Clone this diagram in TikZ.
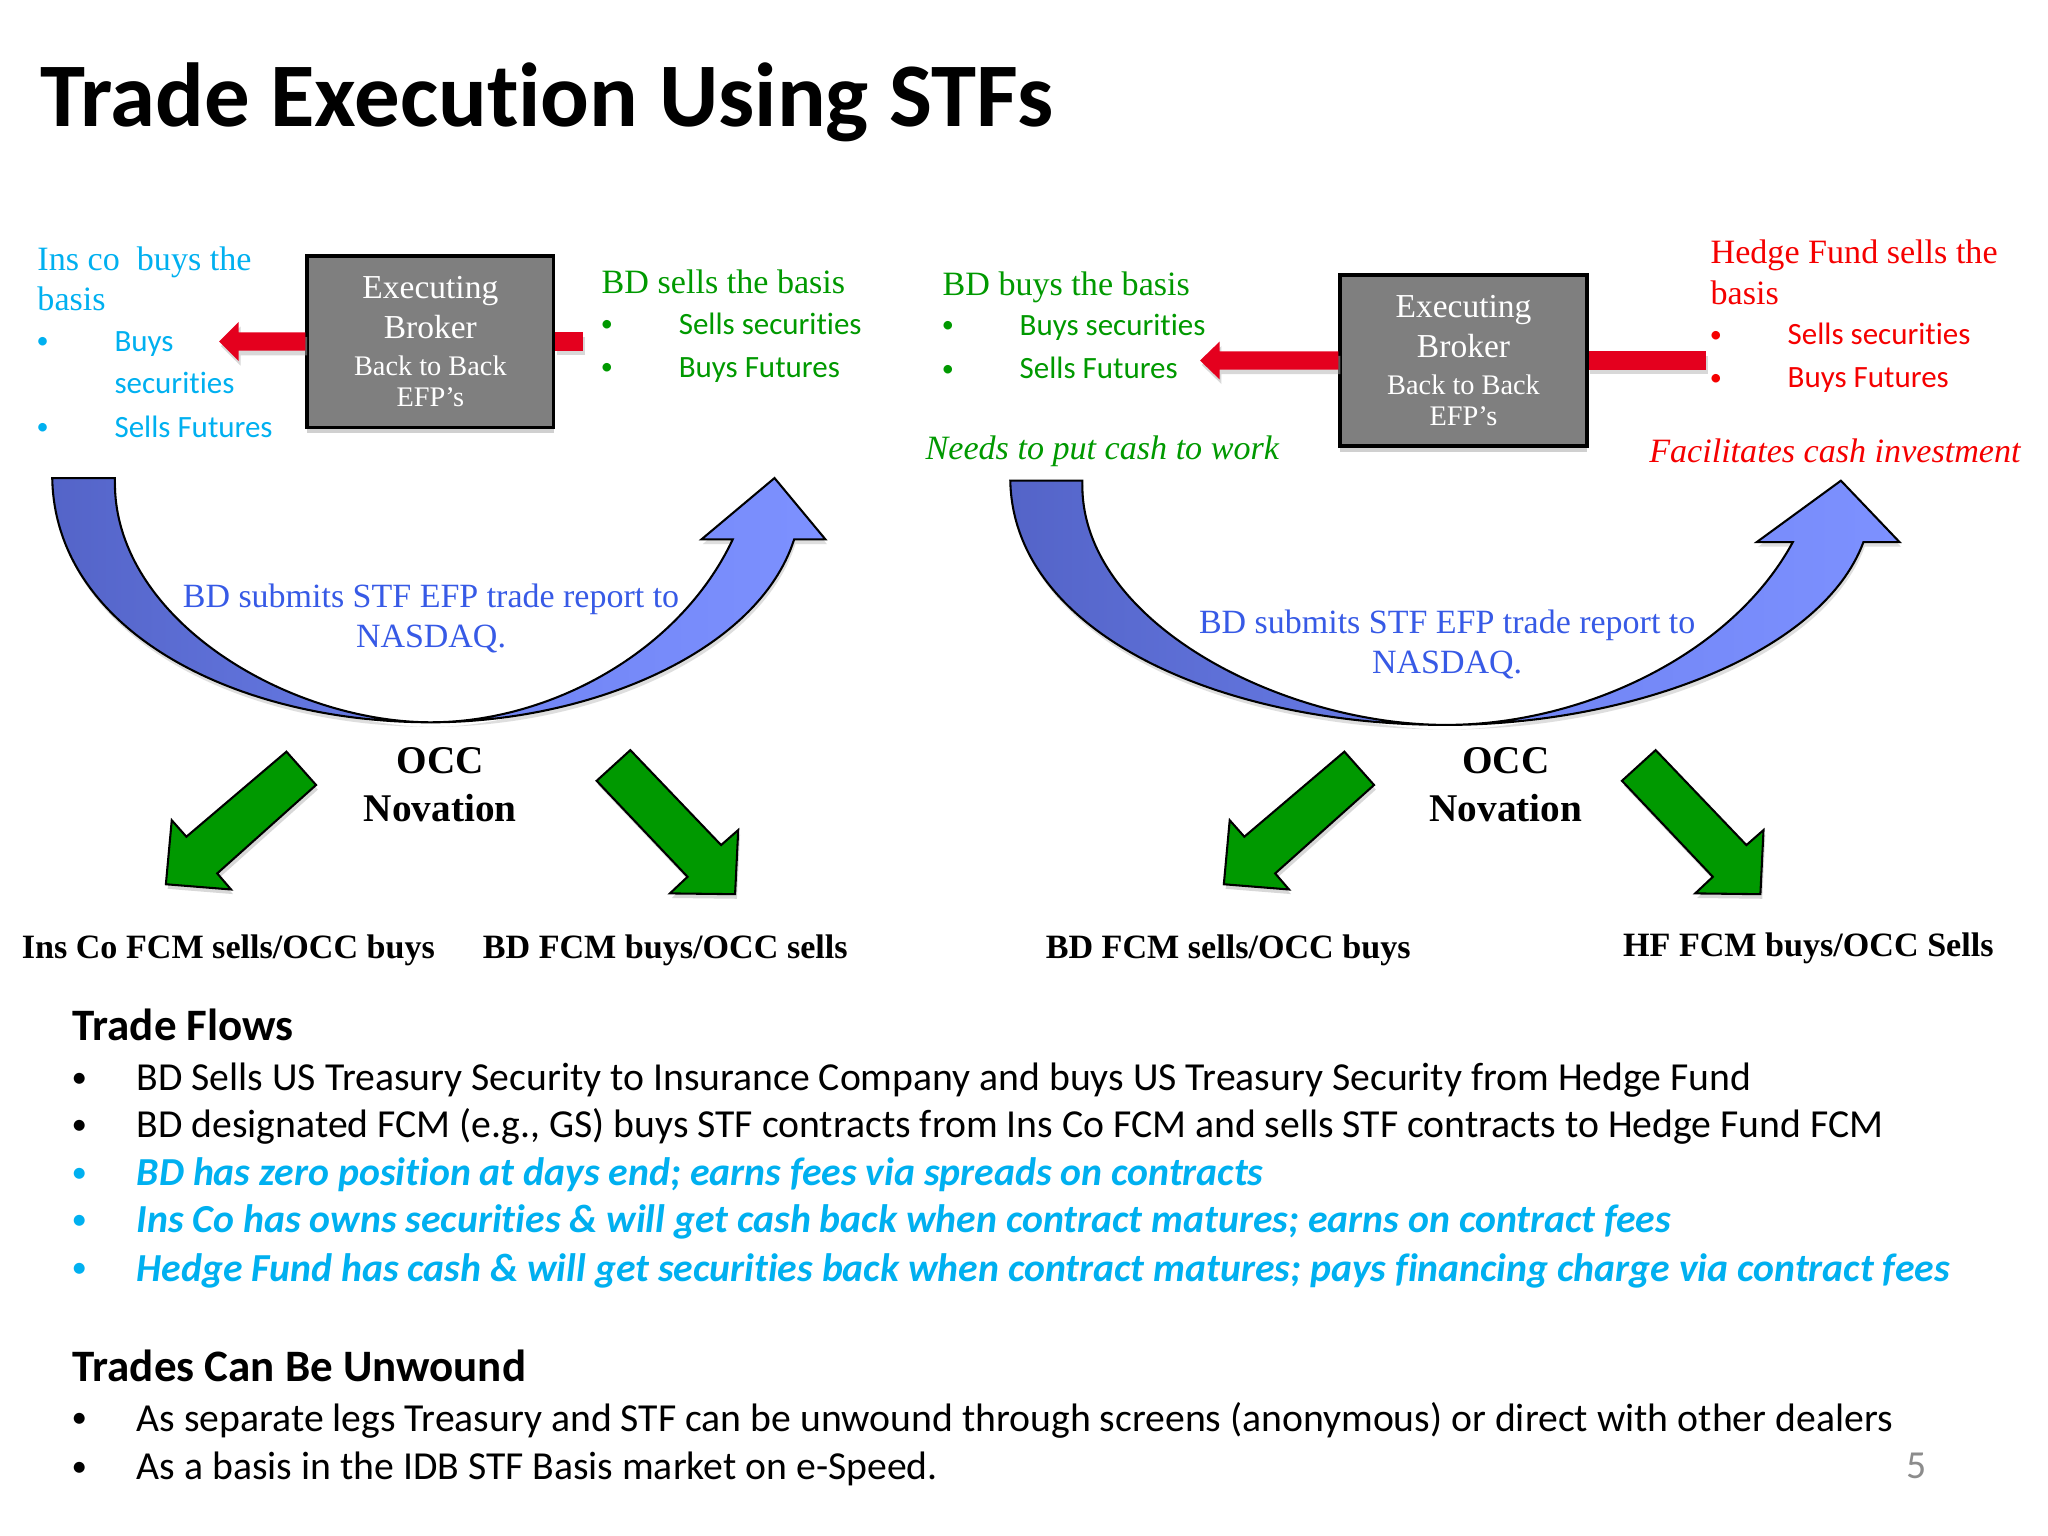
\documentclass[tikz,border=0pt]{standalone}
\usepackage{fontspec}
\setmainfont{Liberation Serif}
\newfontfamily\calibri[Ligatures=NoCommon]{Carlito}
\usepackage{tikz}
\usetikzlibrary{positioning,shadows}
\definecolor{insblue}{RGB}{0,176,240}
\definecolor{bdgreen}{RGB}{0,153,0}
\definecolor{hfred}{RGB}{245,0,0}
\definecolor{flowred}{RGB}{228,0,30}
\definecolor{boxgray}{RGB}{127,127,127}
\definecolor{reportblue}{RGB}{55,90,230}
\definecolor{backL}{RGB}{84,100,200}
\definecolor{backR}{RGB}{105,125,232}
\definecolor{frontL}{RGB}{110,130,242}
\definecolor{frontR}{RGB}{125,145,255}
\definecolor{pagegray}{RGB}{140,140,140}
\newcommand{\smalldot}{\raisebox{0.09em}{\scalebox{0.78}{•}}}

\begin{document}
\begin{tikzpicture}[x=0.1mm, y=-0.1mm,
    serif/.style={inner sep=0pt, anchor=base west, font=\fontsize{7.43}{8.8}\selectfont},
    sans/.style={inner sep=0pt, anchor=base west, font=\calibri\fontsize{6.75}{9.4}\selectfont},
    fcm/.style={inner sep=0pt, anchor=base west, font=\bfseries\fontsize{7.43}{8.8}\selectfont},
    body/.style={inner sep=0pt, anchor=base west, font=\calibri\fontsize{8.65}{10.4}\selectfont},
    bodyhead/.style={inner sep=0pt, anchor=base west, font=\calibri\bfseries\fontsize{9.8}{11.8}\selectfont},
    broker/.style={draw=black, line width=0.7pt, fill=boxgray, text=white, align=center,
        inner sep=0pt, minimum width=18.9mm, minimum height=13.1mm,
        font=\fontsize{7.3}{8.8}\selectfont,
        drop shadow={shadow xshift=0pt, shadow yshift=-1.2pt, fill=black!30, opacity=0.6}},
    flow/.style={fill=flowred, drop shadow={shadow xshift=0.4pt, shadow yshift=-1pt, fill=black!30, opacity=0.5}},
    band/.style={draw=black, line width=0.45pt, drop shadow={shadow xshift=0.3pt, shadow yshift=-1pt, fill=black!25, opacity=0.5}},
    novate/.style={fill=bdgreen, draw=black, line width=0.45pt, drop shadow={shadow xshift=0.4pt, shadow yshift=-1pt, fill=black!30, opacity=0.5}},
    report/.style={inner sep=0pt, anchor=base, text=reportblue, font=\fontsize{7.4}{8.8}\selectfont},
    occ/.style={inner sep=0pt, anchor=base, font=\bfseries\fontsize{8.55}{10.5}\selectfont}
]
    \fill[white] (0,0) rectangle (1568,1176);
    \useasboundingbox (0,0) rectangle (1568,1176);

    % title
    \node[inner sep=0pt, anchor=base west, font=\calibri\bfseries\fontsize{19.8}{23.5}\selectfont] (title) at (30,97) {Trade Execution Using STFs};

    % left panel: Ins Co / BD
    \node[broker] (brokerL) at (329.5,261.5) {Executing\\Broker\\[-0.3mm]{\fontsize{6.17}{7.3}\selectfont Back to Back}\\[-0.7mm]{\fontsize{6.17}{7.3}\selectfont EFP’s}};
    \fill[flow] (brokerL.west) ++(0,-7) -- ++(-51,0) -- ++(0,-8) -- ++(-15,15) -- ++(15,15) -- ++(0,-8) -- ++(51,0) -- cycle;
    \fill[flow] (brokerL.east) ++(0,-7) rectangle ++(21,14);

    \node[serif, text=insblue] (insHead1) at (28,207) {Ins co\ \ buys the};
    \node[serif, text=insblue] (insHead2) at (28,238) {basis};
    \node[sans, text=insblue] (insBuy) at (87,269) {\llap{\clap{\smalldot}\hspace{5.5mm}}Buys};
    \node[sans, text=insblue] (insSec) at (87,301) {securities};
    \node[sans, text=insblue] (insSell) at (87,335) {\llap{\clap{\smalldot}\hspace{5.5mm}}Sells Futures};

    \node[serif, text=bdgreen] (bdSellHead) at (460,225) {BD sells the basis};
    \node[sans, text=bdgreen] (bdSellSec) at (519,256) {\llap{\clap{\smalldot}\hspace{5.5mm}}Sells securities};
    \node[sans, text=bdgreen] (bdSellFut) at (519,289) {\llap{\clap{\smalldot}\hspace{5.5mm}}Buys Futures};

    \begin{scope}[shift={(330,553)}]
        \shadedraw[band, left color=backL, right color=backR] (-290,-187) .. controls (-288,-70) and (-150,0) .. (0,0)
            .. controls (-110,0) and (-245,-80) .. (-242,-187) -- cycle;
        \shadedraw[band, left color=frontL, right color=frontR] (0,0) .. controls (120,0) and (250,-53) .. (278,-140)
            -- (302,-140) -- (263,-187) -- (207,-140) -- (231,-140) .. controls (190,-53) and (90,0) .. (0,0) -- cycle;
    \end{scope}
    \node[report] (reportL1) at (330,465) {BD submits STF EFP trade report to};
    \node[report] (reportL2) at (330,496) {NASDAQ.};

    \node[occ] (occL1) at (337,592) {OCC};
    \node[occ] (occL2) at (337,629) {Novation};
    \filldraw[novate] (219.3,575.5) -- (242,601) -- (166.3,668.7) -- (176.9,681) -- (127,677) -- (131.5,628) -- (142.7,640.6) -- cycle;
    \filldraw[novate] (482.6,574.3) -- (456.8,597.8) -- (526.4,671.3) -- (512.9,684) -- (562.8,684.6) -- (565.2,635.5) -- (552.1,647) -- cycle;

    \node[fcm] (insFcm) at (16,734) {Ins Co FCM sells/OCC buys};
    \node[fcm] (bdFcmL) at (369,734) {BD FCM buys/OCC sells};

    % right panel: BD / Hedge Fund
    \node[broker] (brokerR) at (1120.5,276) {Executing\\Broker\\[-0.3mm]{\fontsize{6.17}{7.3}\selectfont Back to Back}\\[-0.7mm]{\fontsize{6.17}{7.3}\selectfont EFP’s}};
    \fill[flow] (brokerR.west) ++(0,-7) -- ++(-91,0) -- ++(0,-7.5) -- ++(-15,14.5) -- ++(15,14.5) -- ++(0,-7.5) -- ++(91,0) -- cycle;
    \fill[flow] (brokerR.east) ++(0,-7) rectangle ++(90,14);

    \node[serif, text=bdgreen] (bdBuyHead) at (721,226) {BD buys the basis};
    \node[sans, text=bdgreen] (bdBuySec) at (780,257) {\llap{\clap{\smalldot}\hspace{5.5mm}}Buys securities};
    \node[sans, text=bdgreen] (bdBuyFut) at (780,290) {\llap{\clap{\smalldot}\hspace{5.5mm}}Sells Futures};
    \node[serif, text=bdgreen, font=\itshape\fontsize{7.43}{8.8}\selectfont] (bdCash) at (708,352) {Needs to put cash to work};

    \node[serif, text=hfred] (hfHead1) at (1309,202) {Hedge Fund sells the};
    \node[serif, text=hfred] (hfHead2) at (1309,233) {basis};
    \node[sans, text=hfred] (hfSec) at (1368,264) {\llap{\clap{\smalldot}\hspace{5.5mm}}Sells securities};
    \node[sans, text=hfred] (hfFut) at (1368,297) {\llap{\clap{\smalldot}\hspace{5.5mm}}Buys Futures};
    \node[serif, text=hfred, font=\itshape\fontsize{7.43}{8.8}\selectfont] (hfCash) at (1262,354) {Facilitates cash investment};

    \begin{scope}[shift={(1107,555)}, xscale=1.15]
        \shadedraw[band, left color=backL, right color=backR] (-290,-187) .. controls (-288,-70) and (-150,0) .. (0,0)
            .. controls (-110,0) and (-245,-80) .. (-242,-187) -- cycle;
        \shadedraw[band, left color=frontL, right color=frontR] (0,0) .. controls (120,0) and (250,-53) .. (278,-140)
            -- (302,-140) -- (263,-187) -- (207,-140) -- (231,-140) .. controls (190,-53) and (90,0) .. (0,0) -- cycle;
    \end{scope}
    \node[report] (reportR1) at (1108,485) {BD submits STF EFP trade report to};
    \node[report] (reportR2) at (1108,516) {NASDAQ.};

    \node[occ] (occR1) at (1153,592) {OCC};
    \node[occ] (occR2) at (1153,629) {Novation};
    \filldraw[novate, shift={(810,0)}] (219.3,575.5) -- (242,601) -- (166.3,668.7) -- (176.9,681) -- (127,677) -- (131.5,628) -- (142.7,640.6) -- cycle;
    \filldraw[novate, shift={(785,0)}] (482.6,574.3) -- (456.8,597.8) -- (526.4,671.3) -- (512.9,684) -- (562.8,684.6) -- (565.2,635.5) -- (552.1,647) -- cycle;

    \node[fcm] (bdFcmR) at (800,734) {BD FCM sells/OCC buys};
    \node[fcm] (hfFcm) at (1242,732) {HF FCM buys/OCC Sells};

    % trade flows
    \node[bodyhead] (flowsHead) at (55,797) {Trade Flows};
    \node[body] (flow1) at (104,835) {\llap{\clap{\smalldot}\hspace{4.4mm}}BD Sells US Treasury Security to Insurance Company and buys US Treasury Security from Hedge Fund};
    \node[body] (flow2) at (104,871) {\llap{\clap{\smalldot}\hspace{4.4mm}}BD designated FCM (e.g., GS) buys STF contracts from Ins Co FCM and sells STF contracts to Hedge Fund FCM};
    \node[body, text=insblue] (flow3) at (104,908) {\llap{\clap{\smalldot}\hspace{4.4mm}}\bfseries\itshape BD has zero position at days end; earns fees via spreads on contracts};
    \node[body, text=insblue] (flow4) at (104,944) {\llap{\clap{\smalldot}\hspace{4.4mm}}\bfseries\itshape Ins Co has owns securities \& will get cash back when contract matures; earns on contract fees};
    \node[body, text=insblue] (flow5) at (104,981) {\llap{\clap{\smalldot}\hspace{4.4mm}}\bfseries\itshape Hedge Fund has cash \& will get securities back when contract matures; pays financing charge via contract fees};

    % unwinding
    \node[bodyhead] (unwindHead) at (55,1058) {Trades Can Be Unwound};
    \node[body] (unwind1) at (104,1096) {\llap{\clap{\smalldot}\hspace{4.4mm}}As separate legs Treasury and STF can be unwound through screens (anonymous) or direct with other dealers};
    \node[body] (unwind2) at (104,1133) {\llap{\clap{\smalldot}\hspace{4.4mm}}As a basis in the IDB STF Basis market on e-Speed.};
    \node[body, anchor=base, text=pagegray] (pageNo) at (1467,1132) {5};
\end{tikzpicture}
\end{document}
